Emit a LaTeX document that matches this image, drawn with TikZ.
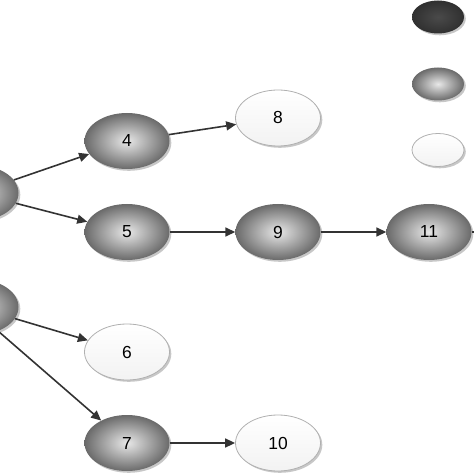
\documentclass[tikz,border=0pt]{standalone}
\usepackage{fontspec}
\setmainfont{Liberation Sans}
\usetikzlibrary{shapes.geometric,arrows.meta,shadows}
\definecolor{edgec}{HTML}{333333}
\definecolor{grayin}{HTML}{E8E8E8}
\definecolor{grayout}{HTML}{6A6A6A}
\definecolor{darkin}{HTML}{4A4A4A}
\definecolor{darkout}{HTML}{303030}
\definecolor{wborder}{HTML}{B0B0B0}
\tikzset{
  base/.style={ellipse, inner sep=0pt, minimum width=85bp, minimum height=56bp,
    font=\fontsize{17.5}{20}\selectfont,
    drop shadow={shadow xshift=1.8bp, shadow yshift=-1.8bp, opacity=0.22, fill=black}},
  graynode/.style={base, shade, inner color=grayin, outer color=grayout},
  whitenode/.style={base, draw=wborder, line width=0.8bp, top color=white, bottom color=gray!10},
  darknode/.style={base, shade, inner color=darkin, outer color=darkout},
  legend/.style={minimum width=52bp, minimum height=33bp},
  conn/.style={draw=edgec, line width=1.6bp, -{Triangle[length=10bp,width=9bp]}},
  plain/.style={draw=edgec, line width=1.6bp}
}
\begin{document}
\begin{tikzpicture}[x=1bp,y=-1bp]
\useasboundingbox (0,0) rectangle (474,474);
% legend
\node[darknode, legend] (ld) at (438,17) {};
\node[graynode, legend] (lg) at (438,84) {};
\node[whitenode, legend] (lw) at (438,150) {};
% left partial nodes
\node[graynode] (a) at (-24,193) {};
\node[graynode] (b) at (-24,307) {};
\coordinate (c) at (-40,298);
\coordinate (r) at (490,232);
% main nodes
\node[graynode] (n4) at (127,141) {4};
\node[graynode] (n5) at (127,232) {5};
\node[whitenode] (n6) at (127,352) {6};
\node[graynode] (n7) at (127,443) {7};
\node[whitenode] (n8) at (278,118) {8};
\node[graynode] (n9) at (278,232) {9};
\node[whitenode] (n10) at (278,443) {10};
\node[graynode] (n11) at (429,232) {11};
% connectors
\draw[conn] (a) -- (n4);
\draw[conn] (a) -- (n5);
\draw[conn] (b) -- (n6);
\draw[conn] (c) -- (n7);
\draw[conn] (n4) -- (n8);
\draw[conn] (n5) -- (n9);
\draw[conn] (n9) -- (n11);
\draw[conn] (n7) -- (n10);
\draw[plain] (n11) -- (r);
\end{tikzpicture}
\end{document}
